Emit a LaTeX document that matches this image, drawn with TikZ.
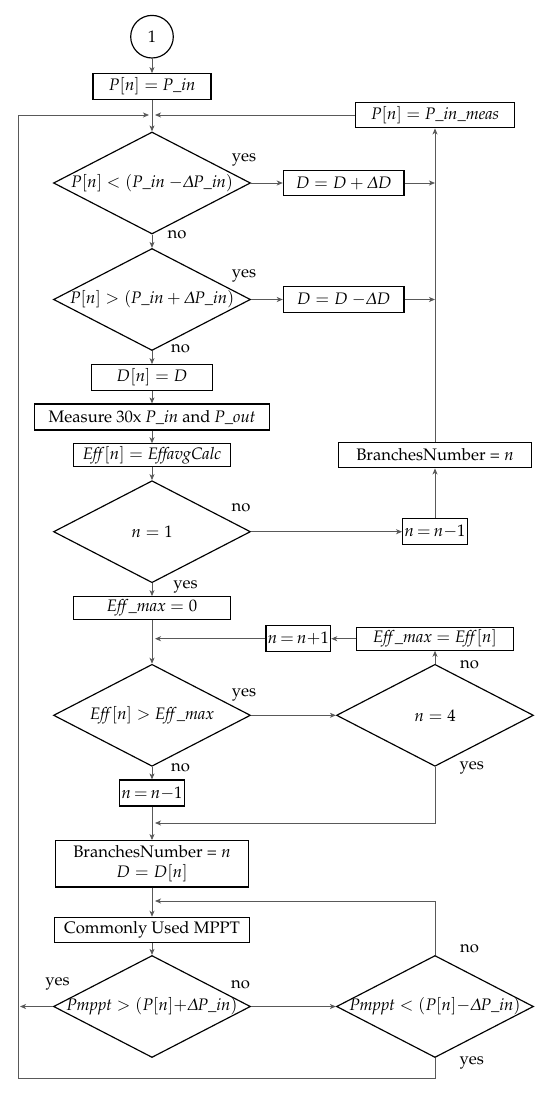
\documentclass[tikz,border=0pt]{standalone}
\usepackage[T1]{fontenc}
\usepackage[slantedGreek]{mathpazo}
\usetikzlibrary{shapes.geometric, arrows.meta}
\newcommand{\mvar}[1]{\mathit{#1}}
\tikzset{
  cn/.style={draw=black!65, line width=0.5pt, -{Stealth[length=3.6pt,width=3pt,inset=1pt]}},
  boxn/.style={draw=black, line width=0.7pt, rectangle, inner sep=0pt, align=center},
  dia/.style={draw=black, line width=0.7pt, diamond, aspect=2, inner sep=0pt,
              minimum width=197*0.6pt, minimum height=102*0.6pt},
  sz/.style 2 args={minimum width=#1*0.6pt, minimum height=#2*0.6pt},
  lab/.style={inner sep=0pt},
}
\begin{document}
\begin{tikzpicture}[x=0.6pt, y=-0.6pt, font=\fontsize{10}{12}\selectfont]
\useasboundingbox (0,0) rectangle (550,1100);
% nodes
\node[circle, draw=black, line width=0.7pt, minimum size=42.6*0.6pt, inner sep=0pt] (c1) at (152,36.7) {1};
\node[boxn, sz={118}{25.6}] (b0) at (152,86.5) {$P[n] = \mvar{P\_in}$};
\coordinate (j1l) at (149,115);
\coordinate (j1r) at (155,115);
\node[boxn, sz={159.4}{25.7}] (bmeas) at (435,115) {$P[n] = \mvar{P\_in\_meas}$};
\node[dia] (d1) at (152,183) {\makebox[0pt]{$P[n] < (\mvar{P\_in}\ {-}\Delta\mvar{P\_in})$}};
\node[boxn, sz={120.7}{25.6}] (bplus) at (343.7,183) {$D = D + \Delta D$};
\coordinate (vplus) at (435,183);
\node[dia] (d2) at (152,299.5) {\makebox[0pt]{$P[n] > (\mvar{P\_in} + \Delta\mvar{P\_in})$}};
\node[boxn, sz={120.7}{26}] (bminus) at (343.7,299.5) {$D = D\ {-}\Delta D$};
\coordinate (vminus) at (435,299.5);
\node[boxn, sz={121}{25.6}] (bdn) at (152,377.5) {$D[n] = D$};
\node[boxn, sz={234.7}{26}] (bms) at (152,417) {Measure 30x $\mvar{P\_in}$ and $\mvar{P\_out}$};
\node[boxn, sz={157}{22.3}] (beff) at (152,455) {$\mvar{Eff}[n] = \mvar{EffavgCalc}$};
\node[boxn, sz={192.3}{25.7}] (bbr) at (435,455) {BranchesNumber = $n$};
\node[dia] (d3) at (152,531.7) {\makebox[0pt]{$n = 1$}};
\node[boxn, sz={64.7}{26}] (bnm1) at (435,531.7) {$n\,{=}\,n{-}1$};
\node[boxn, sz={157}{22.6}] (bem0) at (152,608) {$\mvar{Eff\_max} = 0$};
\coordinate (j2r) at (155,638.7);
\node[boxn, sz={64.7}{25.7}] (bnp1) at (298.3,638.7) {$n\,{=}\,n{+}1$};
\node[boxn, sz={157}{23}] (bemn) at (435,638.7) {$\mvar{Eff\_max} = \mvar{Eff}[n]$};
\node[dia] (d4) at (152,715.3) {\makebox[0pt]{$\mvar{Eff}[n] > \mvar{Eff\_max}$}};
\node[dia] (d5) at (435,715.3) {\makebox[0pt]{$n = 4$}};
\node[boxn, sz={64.6}{26}] (bnm1b) at (152,793) {$n\,{=}\,n{-}1$};
\coordinate (j3r) at (155,823);
\coordinate (k3) at (435,823);
\node[boxn, sz={192.7}{46.3}] (bbrd) at (152,863.8) {BranchesNumber = $n$\\ $D = D[n]$};
\coordinate (j4r) at (155,901);
\coordinate (k4) at (435,901);
\node[boxn, sz={194.3}{25.4}] (bmp) at (152,930) {Commonly Used MPPT};
\node[dia] (d6) at (152,1006.5) {\makebox[0pt]{$\mvar{Pmppt} > (P[n]{+}\Delta\mvar{P\_in})$}};
\node[dia] (d7) at (435,1006.5) {\makebox[0pt]{$\mvar{Pmppt} < (P[n]{-}\Delta\mvar{P\_in})$}};
\coordinate (yout) at (20,1006.5);
\coordinate (rb) at (435,1078);
\coordinate (lb) at (18,1078);
\coordinate (lt) at (18,115);
% connectors
\draw[cn] (c1) -- (b0);
\draw[cn] (b0) -- (d1);
\draw[cn] (bmeas.west) -- (j1r);
\draw[cn] (d7.south) -- (rb) -- (lb) -- (lt) -- (j1l);
\draw[cn] (d1.east) -- (bplus.west);
\draw[cn] (bplus.east) -- (vplus);
\draw[cn] (d1) -- (d2);
\draw[cn] (d2.east) -- (bminus.west);
\draw[cn] (bminus.east) -- (vminus);
\draw[cn] (d2) -- (bdn);
\draw[cn] (bdn) -- (bms);
\draw[cn] (bms) -- (beff);
\draw[cn] (beff) -- (d3);
\draw[cn] (d3.east) -- (bnm1.west);
\draw[cn] (bnm1) -- (bbr);
\draw[cn] (bbr) -- (bmeas);
\draw[cn] (d3) -- (bem0);
\draw[cn] (bem0) -- (d4);
\draw[cn] (bnp1.west) -- (j2r);
\draw[cn] (bemn.west) -- (bnp1.east);
\draw[cn] (d5) -- (bemn);
\draw[cn] (d4.east) -- (d5.west);
\draw[cn] (d4) -- (bnm1b);
\draw[cn] (bnm1b) -- (bbrd);
\draw[cn] (d5.south) -- (k3) -- (j3r);
\draw[cn] (bbrd) -- (bmp);
\draw[cn] (bmp) -- (d6);
\draw[cn] (d7.north) -- (k4) -- (j4r);
\draw[cn] (d6.west) -- (yout);
\draw[cn] (d6.east) -- (d7.west);
% labels
\node[lab] (l1y) at (244,160) {yes};
\node[lab] (l1n) at (177,235) {no};
\node[lab] (l2y) at (244,276) {yes};
\node[lab] (l2n) at (180.5,349) {no};
\node[lab] (l3n) at (241,508) {no};
\node[lab] (l3y) at (185.5,587) {yes};
\node[lab] (l4y) at (244,695) {yes};
\node[lab] (l4n) at (180.5,768) {no};
\node[lab] (l5n) at (469.5,665) {no};
\node[lab] (l5y) at (471.7,768) {yes};
\node[lab] (l6y) at (57.5,984) {yes};
\node[lab] (l6n) at (240.5,985) {no};
\node[lab] (l7n) at (469.5,949) {no};
\node[lab] (l7y) at (471.7,1063) {yes};
\end{tikzpicture}
\end{document}
